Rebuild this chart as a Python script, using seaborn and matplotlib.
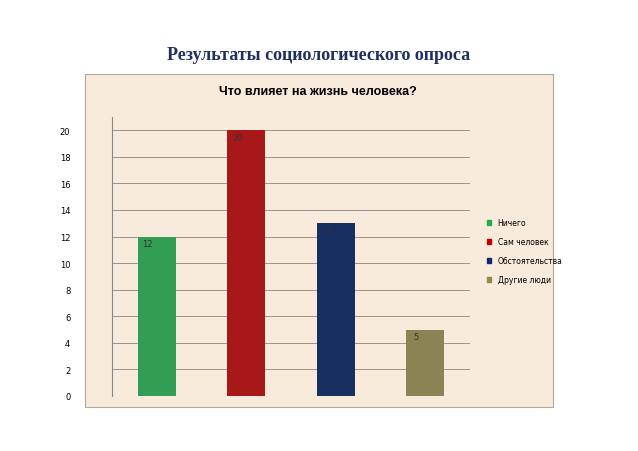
import matplotlib
matplotlib.use("Agg")
import matplotlib.pyplot as plt
import seaborn as sns
import pandas as pd
from matplotlib.patches import Rectangle

categories = ["Ничего", "Сам человек", "Обстоятельства", "Другие люди"]
values = [12, 20, 13, 5]
colors = ["#1fb04c", "#c00000", "#0c2a6e", "#938a4a"]
yticks = list(range(0, 21, 2))

fig = plt.figure(figsize=(6.38, 4.52), dpi=100)
fig.patch.set_facecolor("white")

# chart box (behind axes)
fig.patches.append(Rectangle((85/638, 1-408/452), (553-85)/638, (408-75)/452,
                             transform=fig.transFigure, facecolor="#f8ebdc",
                             edgecolor="#b0a898", lw=0.8, zorder=-5))
fig.text(0.5, 1-55/452, "Результаты социологического опроса", ha="center", va="center",
         fontsize=13, fontweight="bold", family="Liberation Serif", color="#1f2f5f")
fig.text(318/638, 1-92/452, "Что влияет на жизнь человека?", ha="center", va="center",
         fontsize=9, fontweight="bold", family="Liberation Sans", color="black")

ax = fig.add_axes([112/638, 1-397/452, (470-112)/638, (397-118)/452], zorder=2)
ax.set_facecolor("none")
df = pd.DataFrame({"cat": categories, "val": values})
sns.barplot(data=df, x="cat", y="val", hue="cat", palette=colors, ax=ax,
            width=0.42, legend=False, edgecolor="none", zorder=3)
for i, v in enumerate(values):
    ax.text(i - 0.1, v - 0.2, str(v), ha="center", va="top", fontsize=6, color="#333333", zorder=4)
ax.set_ylim(0, 21)
ax.set_yticks(yticks)
ax.set_yticklabels(yticks, fontsize=6)
ax.set_xticks([])
ax.set_xlabel("")
ax.set_ylabel("")
ax.grid(axis="y", color="#888888", lw=0.6, zorder=0)
ax.set_axisbelow(True)
for s in ["top", "right", "bottom"]:
    ax.spines[s].set_visible(False)
ax.spines["left"].set_color("#888888")
ax.tick_params(axis="y", length=0, pad=30)

handles = [Rectangle((0, 0), 1, 1, color=c) for c in colors]
fig.legend(handles, categories, loc="center left", bbox_to_anchor=(480/638, 1-252/452),
           frameon=False, fontsize=5.5, handlelength=0.6, handleheight=0.6, labelspacing=1.3)

fig.savefig("out.png", dpi=100)
